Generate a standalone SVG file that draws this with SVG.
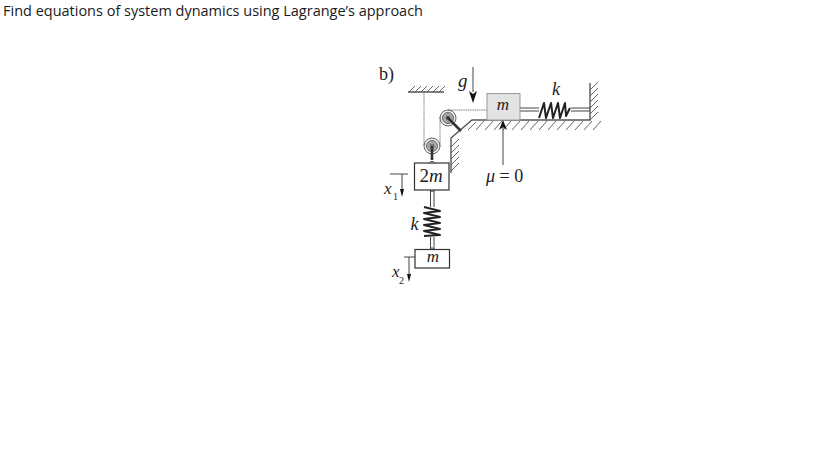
<svg xmlns="http://www.w3.org/2000/svg" width="819" height="460" viewBox="0 0 819 460">
<style>
.title{font-family:"Open Sans","Liberation Sans",sans-serif;font-size:14.5px;fill:#1a1a1a}
.t{font-family:"Liberation Serif",serif;fill:#222}
.i{font-style:italic}
.s10{font-size:10px}
.s17{font-size:17px}
.s18{font-size:18px}
.s19{font-size:19px}
.ln{fill:none;stroke:#444;stroke-width:1}
.wall{fill:none;stroke:#555;stroke-width:1.4}
.hatch{fill:none;stroke:#555;stroke-width:.9}
.rope{fill:none;stroke:#555;stroke-width:.8;stroke-dasharray:1.2 .6}
.box{fill:#fff;stroke:#333;stroke-width:1.2}
.rod{fill:none;stroke:#333;stroke-width:2.6}
.coil{fill:none;stroke:#222;stroke-width:2;stroke-linejoin:round}
.ah{fill:#111}
</style>
<defs>
<g id="pulley"><circle r="8" fill="#eee" stroke="#666" stroke-width="1"/><circle r="5.500" fill="#aaa" stroke="#666" stroke-width="1"/><circle r="2.500" fill="#777"/></g>
</defs>
<text class="title" x="3" y="16" textLength="420" lengthAdjust="spacingAndGlyphs">Find equations of system dynamics using Lagrange’s approach</text>
<text class="t s18" x="379" y="80">b)</text>

<g id="ceiling">
<path class="wall" d="M408 92H444"/>
<path class="hatch" d="M409 92l6-6M415 92l6-6M421 92l6-6M427 92l6-6M433 92l6-6M439 92l6-6"/>
</g>
<g id="ground">
<path class="wall" d="M590 83V120H472L451 138V173"/>
<path class="hatch" d="M590 90l8-8M590 96l8-8M590 102l8-8M590 108l8-8M590 114l8-8M590 120l8-8M476 130l8-9M485 130l8-9M494 130l8-9M503 130l8-9M512 130l8-9M521 130l8-9M530 130l8-9M539 130l8-9M548 130l8-9M557 130l8-9M566 130l8-9M575 130l8-9M584 130l8-9M593 130l8-9M468 130l8-8M451 147l8-8M451 153l8-8M451 159l8-8M451 165l8-8M451 171l8-8"/>
</g>
<g id="pulley-top"><use href="#pulley" x="448" y="118"/></g>
<g id="pulley-low"><use href="#pulley" x="432" y="146"/></g>
<g id="connectors">
<path class="rope" d="M424 92V146M440 146V117M448 110H487"/>
<path class="rod" d="M447 117L461 131M432 146V160"/>
<path class="ln" d="M519 108H539M519 111H539M571 108H590M571 111H590"/>
<path class="coil" d="M539 118L544 103L546 118L551 103L553 118L558 103L560 118L565 103L566 116L570 108"/>
<path class="ln" d="M430.500 190V207M434 190V207M430.500 237V249M434 237V249"/>
<path class="coil" d="M424 207L440 211L424 213L440 217L424 219L440 223L424 225L440 229L424 231L440 235L424 236"/>
<path class="ln" d="M429.500 163a3 3.500 0 0 1 5 0M429.500 190a3 3 0 0 0 5 0M429.500 249.500a3 3.500 0 0 1 5 0"/>
<path class="ln" d="M503 165V124"/>
<path class="ah" d="M503 120L507 130L503 127L499 130Z"/>
<path class="ln" d="M473 67V92"/>
<path class="ah" d="M473 103L469 91L473 94L477 91Z"/>
<path class="ln" d="M390 174H408M402 174V190"/>
<path class="ah" d="M402 197L400 189H404Z"/>
<path class="ln" d="M404 257H415M409 257V275"/>
<path class="ah" d="M409 282L407 274H411Z"/>
</g>
<g id="block-m"><rect x="487" y="93.500" width="33" height="26.500" fill="#e3e3e3" stroke="#999" stroke-width="1"/><text class="t i s17" x="503" y="110" text-anchor="middle">m</text></g>
<g id="block-2m"><rect class="box" x="414.500" y="163" width="34.500" height="27"/><text class="t s19" x="431" y="182" text-anchor="middle">2<tspan class="i">m</tspan></text></g>
<g id="block-m2"><rect class="box" x="415" y="249.500" width="34.500" height="18.500"/><text class="t i s17" x="433" y="262" text-anchor="middle">m</text></g>
<g id="labels">
<text class="t i s19" x="458" y="87">g</text>
<text class="t i s18" x="552" y="95">k</text>
<text class="t i s18" x="410.500" y="230">k</text>
<text class="t s18" x="486" y="182"><tspan class="i">μ</tspan> = 0</text>
<text class="t i s17" x="384" y="194">x</text><text class="t s10" x="393" y="200">1</text>
<text class="t i s17" x="392" y="277">x</text><text class="t s10" x="399" y="284">2</text>
</g>
</svg>
